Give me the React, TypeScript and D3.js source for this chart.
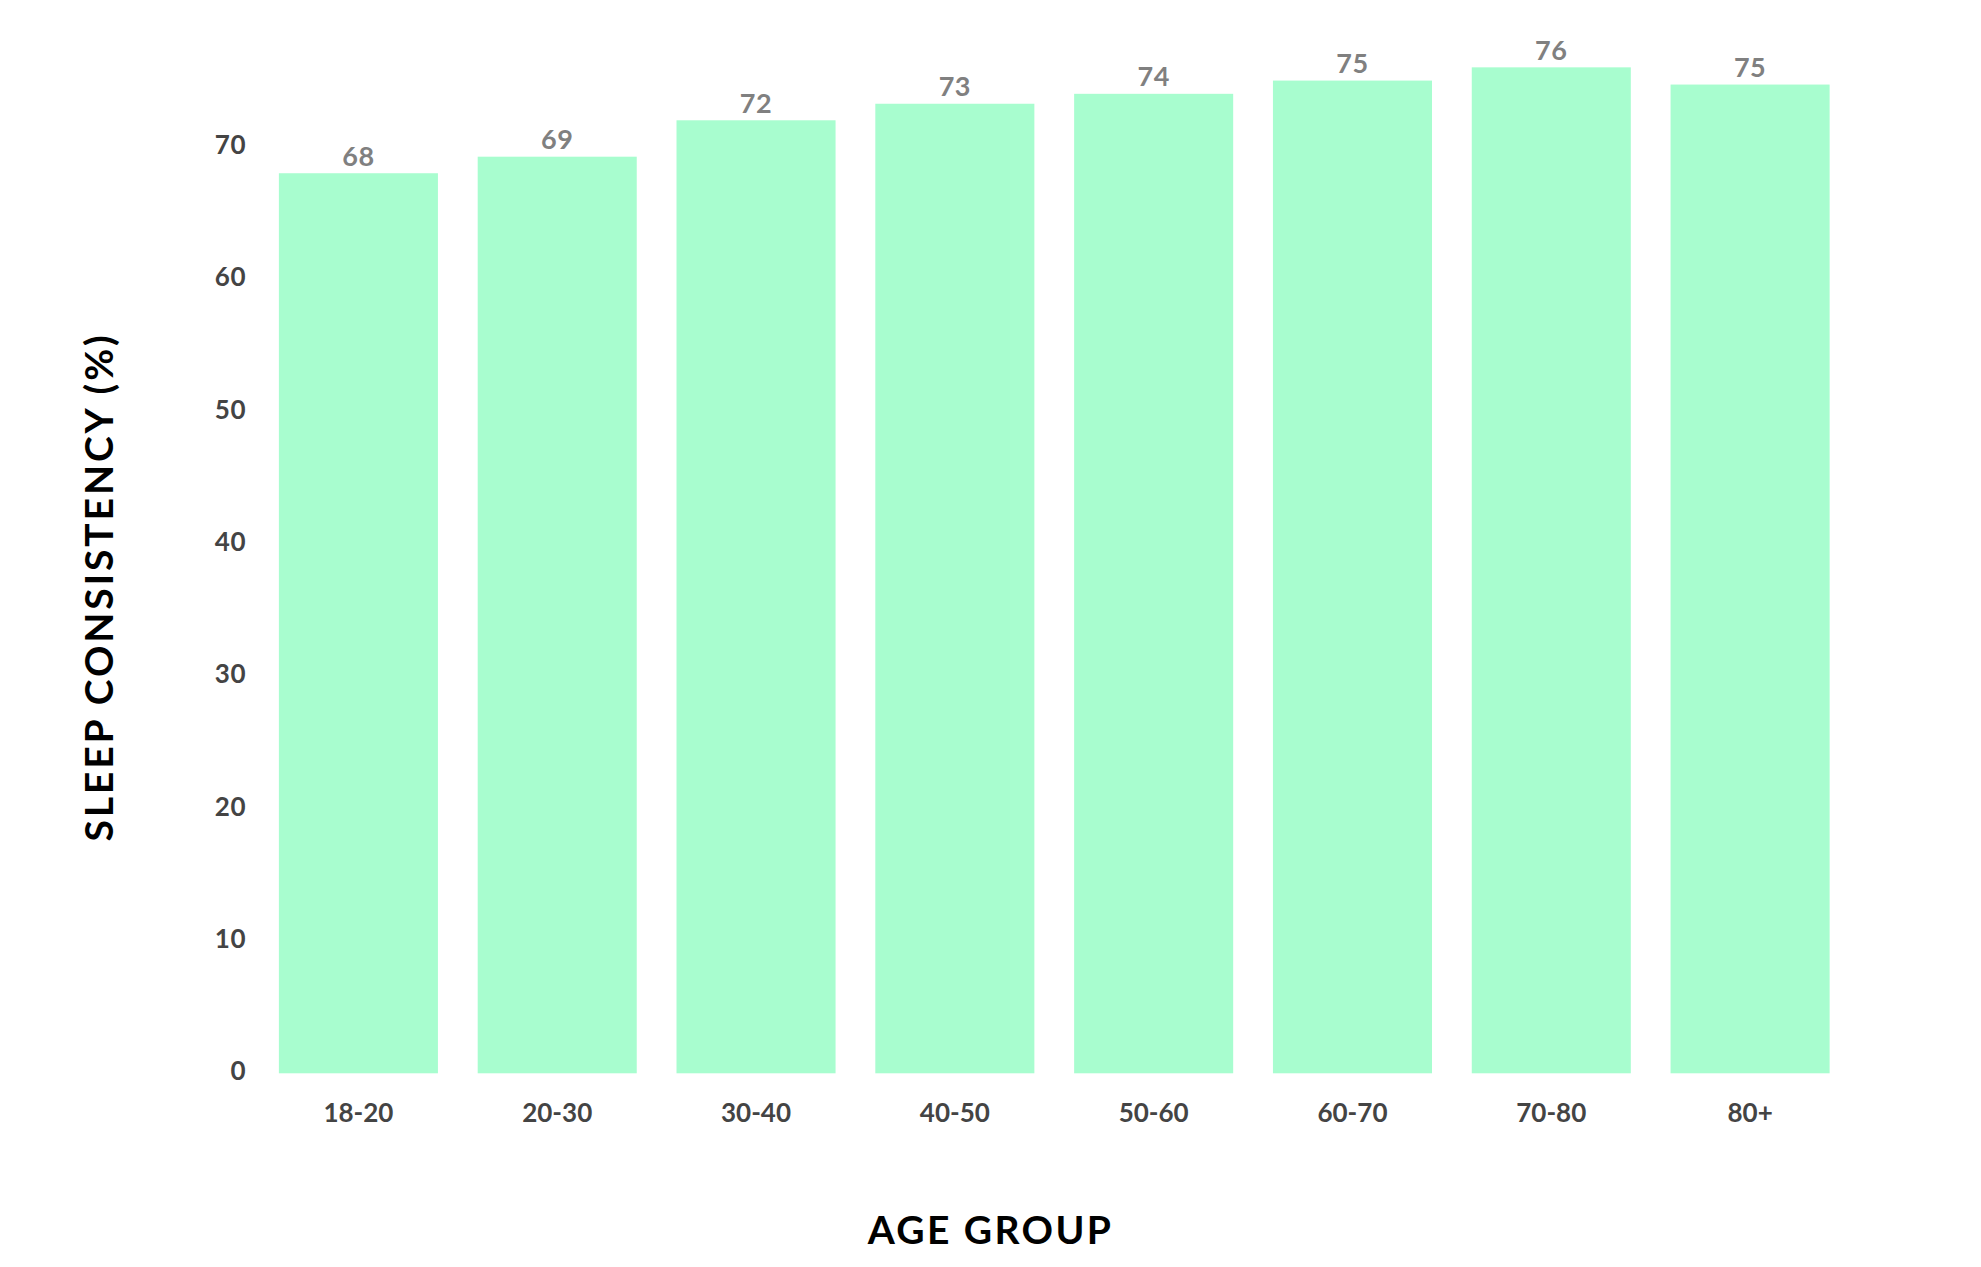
import React, { useRef, useEffect } from 'react';
import * as d3 from 'd3';

const ageGroups = ['18-20', '20-30', '30-40', '40-50', '50-60', '60-70', '70-80', '80+'];
const consistency = [68, 69.25, 72, 73.25, 74, 75, 76, 74.7];
const yTicks = [0, 10, 20, 30, 40, 50, 60, 70];

const FONT = 'Lato, "Open Sans", sans-serif';

const SleepChart: React.FC = () => {
  const svgRef = useRef<SVGSVGElement | null>(null);

  useEffect(() => {
    if (!svgRef.current) return;
    const width = 1981;
    const height = 1267;

    const svg = d3.select(svgRef.current);
    svg.selectAll('*').remove();

    svg.append('rect').attr('width', width).attr('height', height).attr('fill', 'white');

    const x = d3.scaleBand<string>()
      .domain(ageGroups)
      .range([259, 1849.5])
      .paddingInner(0.2)
      .paddingOuter(0.1);

    const y = d3.scaleLinear()
      .domain([0, 80])
      .range([1073.3, 14.4]);

    const rows = ageGroups.map((g, i) => ({ group: g, value: consistency[i] }));

    // bars
    svg.append('g')
      .selectAll('rect')
      .data(rows)
      .enter().append('rect')
      .attr('x', d => x(d.group) as number)
      .attr('y', d => y(d.value))
      .attr('width', x.bandwidth())
      .attr('height', d => y(0) - y(d.value))
      .attr('fill', '#a8fdcf');

    // value labels
    svg.append('g')
      .selectAll('text')
      .data(rows)
      .enter().append('text')
      .attr('x', d => (x(d.group) as number) + x.bandwidth() / 2)
      .attr('y', d => y(d.value) - 17)
      .attr('dy', '0.35em')
      .attr('text-anchor', 'middle')
      .style('font-family', FONT)
      .style('font-weight', 700)
      .style('font-size', '27px')
      .style('letter-spacing', '0.5px')
      .attr('fill', '#808080')
      .text(d => Math.round(d.value).toString());

    // y ticks (no axis line)
    svg.append('g')
      .selectAll('text')
      .data(yTicks)
      .enter().append('text')
      .attr('x', 246)
      .attr('y', d => y(d) - 2)
      .attr('dy', '0.35em')
      .attr('text-anchor', 'end')
      .style('font-family', FONT)
      .style('font-weight', 700)
      .style('font-size', '26px')
      .style('letter-spacing', '0.5px')
      .attr('fill', '#444444')
      .text(d => d.toString());

    // x ticks
    svg.append('g')
      .selectAll('text')
      .data(ageGroups)
      .enter().append('text')
      .attr('x', d => (x(d) as number) + x.bandwidth() / 2)
      .attr('y', 1112.7)
      .attr('dy', '0.35em')
      .attr('text-anchor', 'middle')
      .style('font-family', FONT)
      .style('font-weight', 700)
      .style('font-size', '26px')
      .attr('fill', '#444444')
      .text(d => d);

    // axis titles
    svg.append('text')
      .attr('x', width / 2)
      .attr('y', 1230)
      .attr('dy', '0.35em')
      .attr('text-anchor', 'middle')
      .style('font-family', FONT)
      .style('font-weight', 700)
      .style('font-size', '39px')
      .style('letter-spacing', '2.4px')
      .attr('fill', '#000')
      .text('AGE GROUP');

    svg.append('text')
      .attr('transform', 'translate(99,587) rotate(-90)')
      .attr('dy', '0.35em')
      .attr('text-anchor', 'middle')
      .style('font-family', FONT)
      .style('font-weight', 700)
      .style('font-size', '39px')
      .style('letter-spacing', '2.9px')
      .attr('fill', '#000')
      .text('SLEEP CONSISTENCY (%)');
  }, []);

  return (
    <svg
      ref={svgRef}
      width={1981}
      height={1267}
      style={{ position: 'absolute', left: 0, top: 0, display: 'block' }}
    />
  );
};

export default function App() {
  return <SleepChart />;
}
